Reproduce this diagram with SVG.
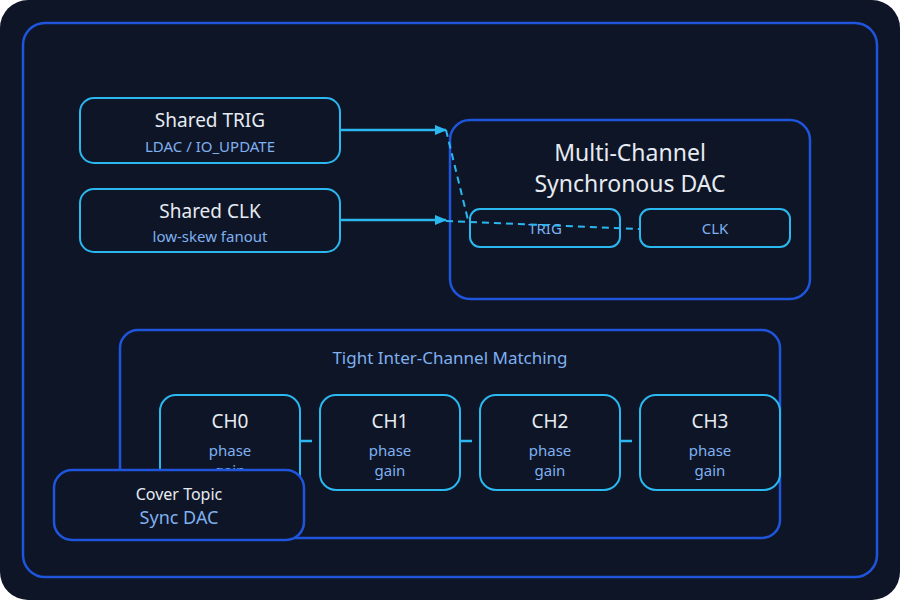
<svg xmlns="http://www.w3.org/2000/svg" width="900" height="600" viewBox="0 0 900 600">
<defs>
<marker id="ah" markerWidth="12" markerHeight="10" refX="11" refY="5" orient="auto" markerUnits="userSpaceOnUse"><path d="M0,0 L12,5 L0,10 z" fill="#2bb8f0"/></marker>
<style>
text{font-family:"Noto Sans","Open Sans",sans-serif;text-anchor:middle}
.n{fill:#0e1526;stroke:#2bb8f0;stroke-width:2}
.b{fill:#0e1526;stroke:#1f55dd;stroke-width:2.5}
.t{fill:#e6ebf2;font-size:19px}
.s{fill:#7fb0f0;font-size:15px}
.c{stroke:#2bb8f0;stroke-width:2.5;fill:none}
.d{stroke:#2bb8f0;stroke-width:2;fill:none;stroke-dasharray:7 5}
</style>
</defs>
<rect x="0" y="0" width="900" height="600" rx="28" fill="#0e1526"/>
<rect x="23" y="23" width="854" height="554" rx="22" fill="none" stroke="#1f55dd" stroke-width="2.5"/>
<g id="dac"><rect class="b" x="450" y="120" width="360" height="179" rx="20"/>
<text class="t" x="630" y="161" font-size="23" style="font-size:23px">Multi-Channel</text>
<text class="t" x="630" y="192" style="font-size:23px">Synchronous DAC</text></g>
<g id="ptrig"><rect class="n" x="470" y="209" width="150" height="38" rx="10"/><text class="s" x="545" y="234">TRIG</text></g>
<g id="pclk"><rect class="n" x="640" y="209" width="150" height="38" rx="10"/><text class="s" x="715" y="234">CLK</text></g>
<g id="trig"><rect class="n" x="80" y="98" width="260" height="65" rx="14"/><text class="t" x="210" y="127">Shared TRIG</text><text class="s" x="210" y="152">LDAC / IO_UPDATE</text></g>
<g id="clk"><rect class="n" x="80" y="189" width="260" height="63" rx="14"/><text class="t" x="210" y="218">Shared CLK</text><text class="s" x="210" y="242">low-skew fanout</text></g>
<g id="match"><rect class="b" x="120" y="330" width="660" height="208" rx="18"/><text class="s" x="450" y="364" style="font-size:17px">Tight Inter-Channel Matching</text></g>
<g id="connectors">
<line class="c" x1="340" y1="130" x2="446" y2="130" marker-end="url(#ah)"/>
<line class="c" x1="340" y1="220" x2="446" y2="220" marker-end="url(#ah)"/>
<path class="d" d="M446,130 L468,220"/>
<path class="d" d="M446,221 L640,229"/>
<line class="c" x1="300" y1="441" x2="312" y2="441"/>
<line class="c" x1="460" y1="441" x2="472" y2="441"/>
<line class="c" x1="620" y1="441" x2="632" y2="441"/>
</g>
<g id="ch0"><rect class="n" x="160" y="395" width="140" height="95" rx="16"/><text class="t" x="230" y="428">CH0</text><text class="s" x="230" y="456">phase</text><text class="s" x="230" y="476">gain</text></g>
<g id="ch1"><rect class="n" x="320" y="395" width="140" height="95" rx="16"/><text class="t" x="390" y="428">CH1</text><text class="s" x="390" y="456">phase</text><text class="s" x="390" y="476">gain</text></g>
<g id="ch2"><rect class="n" x="480" y="395" width="140" height="95" rx="16"/><text class="t" x="550" y="428">CH2</text><text class="s" x="550" y="456">phase</text><text class="s" x="550" y="476">gain</text></g>
<g id="ch3"><rect class="n" x="640" y="395" width="140" height="95" rx="16"/><text class="t" x="710" y="428">CH3</text><text class="s" x="710" y="456">phase</text><text class="s" x="710" y="476">gain</text></g>
<g id="cover"><rect class="b" x="54" y="470" width="250" height="70" rx="18"/><text class="t" x="179" y="500" style="font-size:16px">Cover Topic</text><text class="s" x="179" y="524" style="font-size:18px">Sync DAC</text></g>
</svg>
